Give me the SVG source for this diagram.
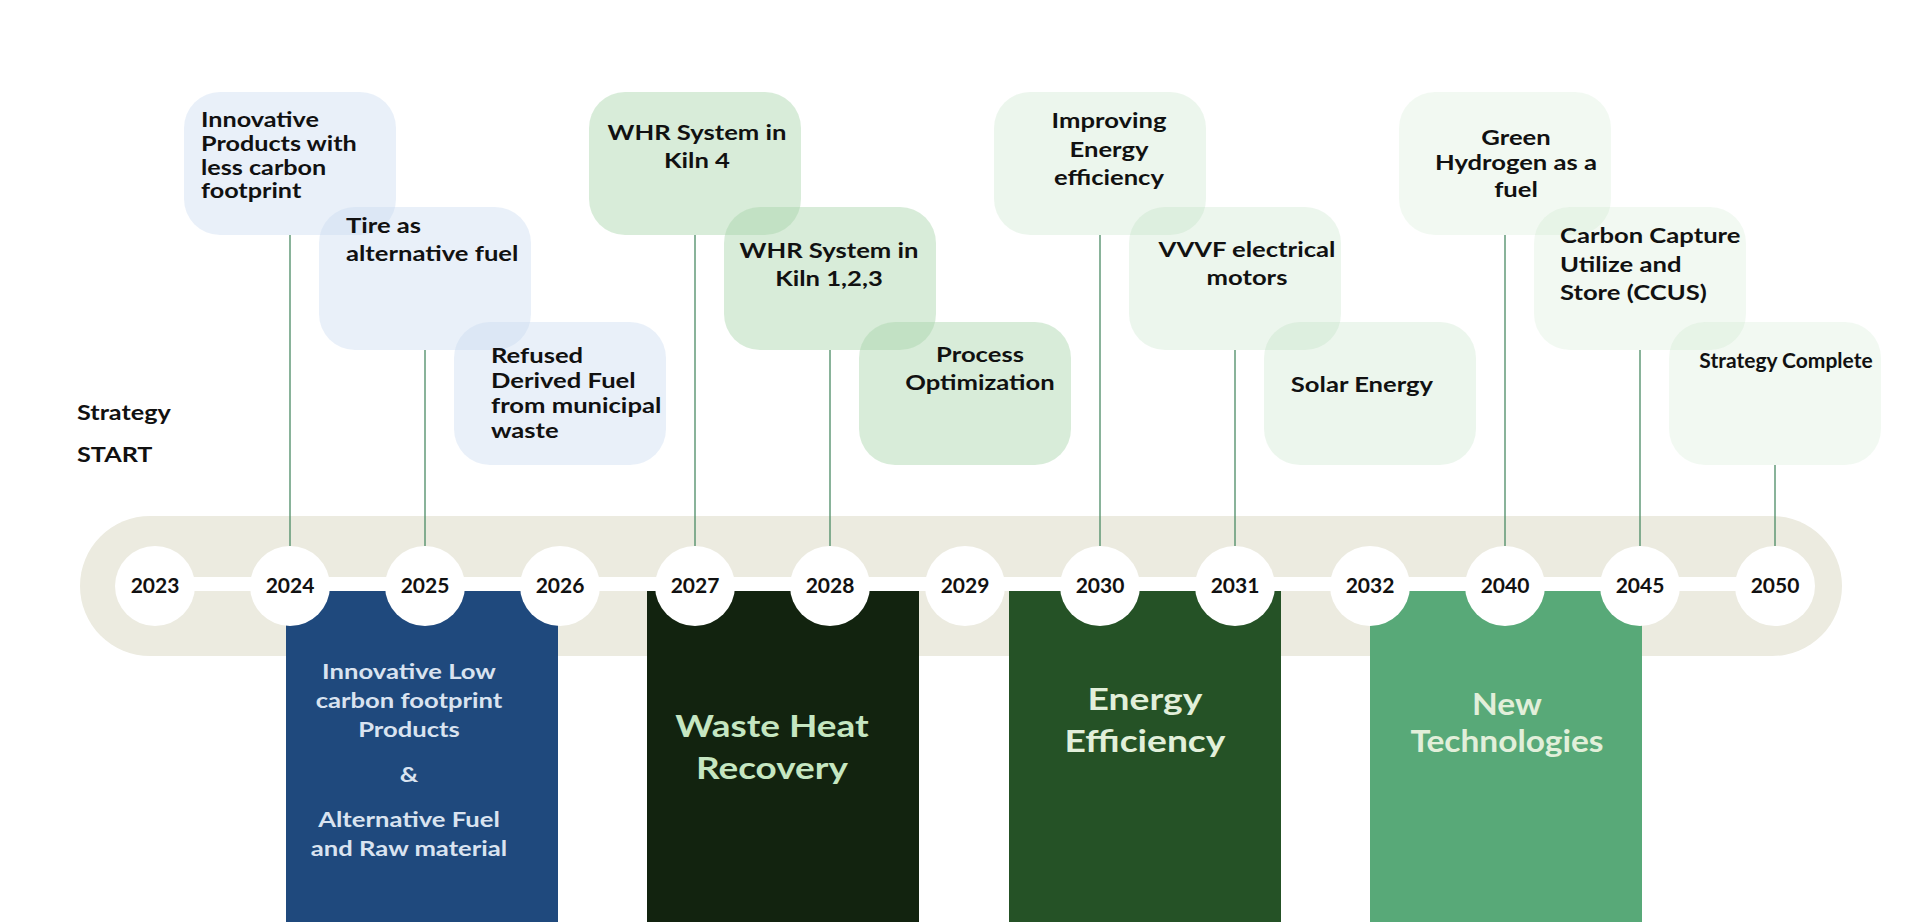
<svg xmlns="http://www.w3.org/2000/svg" width="1920" height="922" viewBox="0 0 1920 922">
<style>
.t{font-family:Lato,"Open Sans","Liberation Sans",sans-serif;font-weight:bold;fill:#111;font-size:21px}
.c{text-anchor:middle}
.yr{font-family:Lato,"Open Sans","Liberation Sans",sans-serif;font-weight:bold;fill:#111;font-size:21px;text-anchor:middle}
.bb{fill:#C9DAF0;fill-opacity:0.4}
.bg{fill:#A9D5AB;fill-opacity:0.45}
.be{fill:#A9D5AB;fill-opacity:0.22}
.bn{fill:#A9D5AB;fill-opacity:0.15}
.ln{stroke:#4A8A64;stroke-width:1.3;fill:none}
.band{font-family:Lato,"Open Sans","Liberation Sans",sans-serif;font-weight:bold;text-anchor:middle}
</style>
<rect width="1920" height="922" fill="#fff"/>
<g id="timeline">
<rect x="80" y="516" width="1762" height="140" rx="70" ry="70" fill="#ECEBE0"/>
<rect x="155" y="577" width="1620" height="14" fill="#fff"/>
</g>
<g id="band-low-carbon">
<rect x="286" y="591" width="272" height="331" fill="#1F497D"/>
<text class="band" font-size="21" fill="#D9E3F0" transform="matrix(1.22,0,0,1,-89.98,0)"><tspan x="409" y="679">Innovative Low</tspan><tspan x="409" y="708">carbon footprint</tspan><tspan x="409" y="737">Products</tspan><tspan x="409" y="782">&amp;</tspan><tspan x="409" y="827">Alternative Fuel</tspan><tspan x="409" y="856">and Raw material</tspan></text>
</g>
<g id="band-whr">
<rect x="647" y="591" width="272" height="331" fill="#12230F"/>
<text class="band" font-size="31" fill="#C5E6C1" transform="matrix(1.19,0,0,1,-146.68,0)"><tspan x="772" y="737">Waste Heat</tspan><tspan x="772" y="779">Recovery</tspan></text>
</g>
<g id="band-energy">
<rect x="1009" y="591" width="272" height="331" fill="#255226"/>
<text class="band" font-size="31" fill="#E2EFDA" transform="matrix(1.2,0,0,1,-229,0)"><tspan x="1145" y="710">Energy</tspan><tspan x="1145" y="752">Efficiency</tspan></text>
</g>
<g id="band-new">
<rect x="1370" y="591" width="272" height="331" fill="#58A978"/>
<text class="band" font-size="31" fill="#E2EFDA" transform="matrix(1.08,0,0,1,-120.56,0)"><tspan x="1507" y="715">New</tspan><tspan x="1507" y="752">Technologies</tspan></text>
</g>
<g id="connectors">
<line class="ln" x1="290" y1="235" x2="290" y2="546"/>
<line class="ln" x1="425" y1="350" x2="425" y2="546"/>
<line class="ln" x1="695" y1="235" x2="695" y2="546"/>
<line class="ln" x1="830" y1="350" x2="830" y2="546"/>
<line class="ln" x1="1100" y1="235" x2="1100" y2="546"/>
<line class="ln" x1="1235" y1="350" x2="1235" y2="546"/>
<line class="ln" x1="1505" y1="235" x2="1505" y2="546"/>
<line class="ln" x1="1640" y1="350" x2="1640" y2="546"/>
<line class="ln" x1="1775" y1="465" x2="1775" y2="546"/>
</g>
<g id="years">
<g fill="#fff">
<circle cx="155" cy="586" r="40"/><circle cx="290" cy="586" r="40"/><circle cx="425" cy="586" r="40"/><circle cx="560" cy="586" r="40"/><circle cx="695" cy="586" r="40"/><circle cx="830" cy="586" r="40"/><circle cx="965" cy="586" r="40"/><circle cx="1100" cy="586" r="40"/><circle cx="1235" cy="586" r="40"/><circle cx="1370" cy="586" r="40"/><circle cx="1505" cy="586" r="40"/><circle cx="1640" cy="586" r="40"/><circle cx="1775" cy="586" r="40"/>
</g>
<text class="yr" x="155" y="593">2023</text><text class="yr" x="290" y="593">2024</text><text class="yr" x="425" y="593">2025</text><text class="yr" x="560" y="593">2026</text><text class="yr" x="695" y="593">2027</text><text class="yr" x="830" y="593">2028</text><text class="yr" x="965" y="593">2029</text><text class="yr" x="1100" y="593">2030</text><text class="yr" x="1235" y="593">2031</text><text class="yr" x="1370" y="593">2032</text><text class="yr" x="1505" y="593">2040</text><text class="yr" x="1640" y="593">2045</text><text class="yr" x="1775" y="593">2050</text>
</g>
<g id="start">
<text class="t" transform="matrix(1.2,0,0,1,-15.4,0)"><tspan x="77" y="420">Strategy</tspan><tspan x="77" y="462">START</tspan></text>
</g>
<g id="n2024">
<rect class="bb" x="184" y="92" width="212" height="143" rx="36"/>
<text class="t" transform="matrix(1.2,0,0,1,-40.2,0)"><tspan x="201" y="127">Innovative</tspan><tspan x="201" y="151">Products with</tspan><tspan x="201" y="175">less carbon</tspan><tspan x="201" y="198">footprint</tspan></text>
</g>
<g id="n2025">
<rect class="bb" x="319" y="207" width="212" height="143" rx="36"/>
<text class="t" transform="matrix(1.22,0,0,1,-76.12,0)"><tspan x="346" y="233">Tire as</tspan><tspan x="346" y="261">alternative fuel</tspan></text>
</g>
<g id="n2026">
<rect class="bb" x="454" y="322" width="212" height="143" rx="36"/>
<text class="t" transform="matrix(1.22,0,0,1,-108.02,0)"><tspan x="491" y="363">Refused</tspan><tspan x="491" y="388">Derived Fuel</tspan><tspan x="491" y="413">from municipal</tspan><tspan x="491" y="438">waste</tspan></text>
</g>
<g id="n2027">
<rect class="bg" x="589" y="92" width="212" height="143" rx="36"/>
<text class="t c" transform="matrix(1.22,0,0,1,-153.34,0)"><tspan x="697" y="140">WHR System in</tspan><tspan x="697" y="168">Kiln 4</tspan></text>
</g>
<g id="n2028">
<rect class="bg" x="724" y="207" width="212" height="143" rx="36"/>
<text class="t c" transform="matrix(1.22,0,0,1,-182.38,0)"><tspan x="829" y="258">WHR System in</tspan><tspan x="829" y="286">Kiln 1,2,3</tspan></text>
</g>
<g id="n2029">
<rect class="bg" x="859" y="322" width="212" height="143" rx="36"/>
<text class="t c" transform="matrix(1.22,0,0,1,-215.6,0)"><tspan x="980" y="362">Process</tspan><tspan x="980" y="390">Optimization</tspan></text>
</g>
<g id="n2030">
<rect class="be" x="994" y="92" width="212" height="143" rx="36"/>
<text class="t c" transform="matrix(1.22,0,0,1,-243.98,0)"><tspan x="1109" y="128">Improving</tspan><tspan x="1109" y="157">Energy</tspan><tspan x="1109" y="185">efficiency</tspan></text>
</g>
<g id="n2031">
<rect class="be" x="1129" y="207" width="212" height="143" rx="36"/>
<text class="t c" transform="matrix(1.22,0,0,1,-274.34,0)"><tspan x="1247" y="257">VVVF electrical</tspan><tspan x="1247" y="285">motors</tspan></text>
</g>
<g id="n2032">
<rect class="be" x="1264" y="322" width="212" height="143" rx="36"/>
<text class="t c" transform="matrix(1.22,0,0,1,-299.64,0)"><tspan x="1362" y="392">Solar Energy</tspan></text>
</g>
<g id="n2040">
<rect class="bn" x="1399" y="92" width="212" height="143" rx="36"/>
<text class="t c" transform="matrix(1.22,0,0,1,-333.52,0)"><tspan x="1516" y="145">Green</tspan><tspan x="1516" y="170">Hydrogen as a</tspan><tspan x="1516" y="197">fuel</tspan></text>
</g>
<g id="n2045">
<rect class="bn" x="1534" y="207" width="212" height="143" rx="36"/>
<text class="t" transform="matrix(1.22,0,0,1,-343.2,0)"><tspan x="1560" y="243">Carbon Capture</tspan><tspan x="1560" y="272">Utilize and</tspan><tspan x="1560" y="300">Store (CCUS)</tspan></text>
</g>
<g id="n2050">
<rect class="bn" x="1669" y="322" width="212" height="143" rx="36"/>
<text class="t c" font-size="18.5"><tspan x="1786" y="368">Strategy Complete</tspan></text>
</g>
</svg>
